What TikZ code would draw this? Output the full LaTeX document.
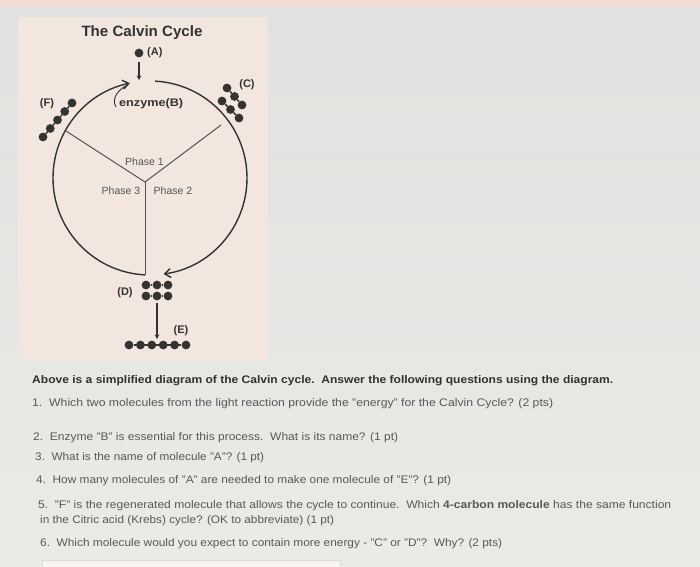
\documentclass[tikz,border=0pt]{standalone}
\usepackage{fontspec}
\setmainfont{Liberation Sans}
\usetikzlibrary{arrows.meta}
\definecolor{bgtop}{HTML}{DFE2DE}
\definecolor{bgbot}{HTML}{E8EBE6}
\definecolor{panel}{HTML}{F3E6DE}
\definecolor{ink}{HTML}{333333}
\definecolor{phasec}{HTML}{555555}
\definecolor{qtext}{HTML}{565957}
\definecolor{qbold}{HTML}{303231}
\definecolor{strip}{HTML}{F2DED6}
\newlength\fitlen
\newcommand\fitto[2]{\settowidth\fitlen{#2}\pgfmathsetmacro\fitfac{#1/\fitlen}\scalebox{\fitfac}[1]{#2}}
\tikzset{
  mol/.style={circle, fill=ink, inner sep=0pt, minimum size=8.8pt},
  bond/.style={draw=ink, line width=1.6pt},
  lab/.style={font=\bfseries\fontsize{11}{13}\selectfont, text=ink, inner sep=0pt},
  phaselab/.style={font=\fontsize{10.5}{12}\selectfont, text=phasec, inner sep=0pt},
  cyc/.style={draw=ink, line width=1.4pt},
  phaseline/.style={draw=phasec, line width=1pt},
  qline/.style={anchor=west, inner sep=0pt, font=\fontsize{11}{13}\selectfont, text=qtext},
}
\begin{document}
\begin{tikzpicture}[x=1pt,y=-1pt]
\useasboundingbox (0,0) rectangle (700,566);
\shade[top color=bgtop, bottom color=bgbot] (0,0) rectangle (700,566);
\fill[strip] (0,0) rectangle (700,7);
\fill[panel] (18,17) rectangle (268,360);
\filldraw[fill=white!60!bgbot, draw=panel!80!black!30!panel] (42,560) rectangle (340,572);

% title
\node[font=\bfseries\fontsize{15}{18}\selectfont, text=ink, inner sep=0pt] (title) at (142,33) {\fitto{121}{The Calvin Cycle}};

% molecule A and its arrow
\node[mol] (a) at (139,53) {};
\node[lab, anchor=west] (alab) at (147,53) {(A)};
\coordinate (atip) at (139,80);
\draw[ink, line width=1.1pt, -{Stealth[length=4.5pt,width=4.5pt]}, shorten <=4pt] (a) -- (atip);

% cycle arcs
\coordinate (cc) at (150,178);
\coordinate (lstart) at ([shift={(93:97)}]cc);
\coordinate (rstart) at ([shift={(273:97)}]cc);
\draw[cyc, -{Straight Barb[length=6pt,width=9pt]}] (lstart) arc[start angle=93, end angle=258, radius=97];
\draw[cyc, -{Straight Barb[length=6pt,width=9pt]}] (rstart) arc[start angle=273, end angle=442, radius=97];

% enzyme
\node[lab, anchor=west] (enz) at (119,104) {\fitto{64}{enzyme(B)}};
\coordinate (enzs) at (116,107);
\coordinate (enze) at (128,85);
\draw[ink, line width=0.9pt] (enzs) .. controls (111,99) and (118,89) .. (enze);

% phase lines
\coordinate (j) at (145,182);
\coordinate (pl) at (66,131);
\coordinate (pr) at (221,125);
\coordinate (pb) at (145,275);
\draw[phaseline] (pl) -- (j) -- (pr);
\draw[phaseline] (j) -- (pb);
\node[phaselab] (ph1) at (144.5,162) {Phase 1};
\node[phaselab] (ph3) at (121,191) {Phase 3};
\node[phaselab] (ph2) at (173,191) {Phase 2};

% molecule F
\foreach \i in {0,...,4} \node[mol] (f\i) at ({43+7.25*\i},{137-8.5*\i}) {};
\draw[bond] (f0) -- (f1) -- (f2) -- (f3) -- (f4);
\node[lab] (flab) at (47,104) {(F)};

% molecule C
\foreach \i in {0,1,2} {
  \node[mol] (ca\i) at ({227+7.5*\i},{88+8.5*\i}) {};
  \node[mol] (cb\i) at ({222+8.5*\i},{101+8.5*\i}) {};
}
\draw[bond] (ca0) -- (ca1) -- (ca2);
\draw[bond] (cb0) -- (cb1) -- (cb2);
\node[lab] (clab) at (247,85) {(C)};

% molecule D
\foreach \i in {0,1,2} {
  \node[mol] (da\i) at ({146+11*\i},285) {};
  \node[mol] (db\i) at ({146+11*\i},296) {};
}
\draw[bond] (da0) -- (da1) -- (da2);
\draw[bond] (db0) -- (db1) -- (db2);
\node[lab] (dlab) at (125,293) {(D)};

% molecule E
\foreach \i in {0,...,5} \node[mol] (e\i) at ({129+11.4*\i},345) {};
\draw[bond] (e0) -- (e5);
\node[lab] (elab) at (181,331) {(E)};

% D -> E arrow
\coordinate (dearr) at (157,303);
\coordinate (detip) at (157,339);
\draw[ink, line width=1.1pt, -{Stealth[length=4.5pt,width=4.5pt]}] (dearr) -- (detip);

% questions
\node[qline, text=qbold, font=\bfseries\fontsize{11}{13}\selectfont] (q0) at (32,381) {\fitto{581}{Above is a simplified diagram of the Calvin cycle.\ \ Answer the following questions using the diagram.}};
\node[qline] (q1) at (32,404) {\fitto{521}{1.\ \ Which two molecules from the light reaction provide the "energy" for the Calvin Cycle? (2 pts)}};
\node[qline] (q2) at (33,438) {\fitto{365}{2.\ \ Enzyme "B" is essential for this process.\ \ What is its name? (1 pt)}};
\node[qline] (q3) at (35,458) {\fitto{229}{3.\ \ What is the name of molecule "A"? (1 pt)}};
\node[qline] (q4) at (36,481) {\fitto{415}{4.\ \ How many molecules of "A" are needed to make one molecule of "E"? (1 pt)}};
\node[qline] (q5) at (38,506) {\fitto{633}{5.\ \ "F" is the regenerated molecule that allows the cycle to continue.\ \ Which \textbf{4-carbon molecule} has the same function}};
\node[qline] (q5b) at (40,521) {\fitto{294}{in the Citric acid (Krebs) cycle? (OK to abbreviate) (1 pt)}};
\node[qline] (q6) at (40,544) {\fitto{462}{6.\ \ Which molecule would you expect to contain more energy - "C" or "D"?\ \ Why? (2 pts)}};
\end{tikzpicture}
\end{document}
